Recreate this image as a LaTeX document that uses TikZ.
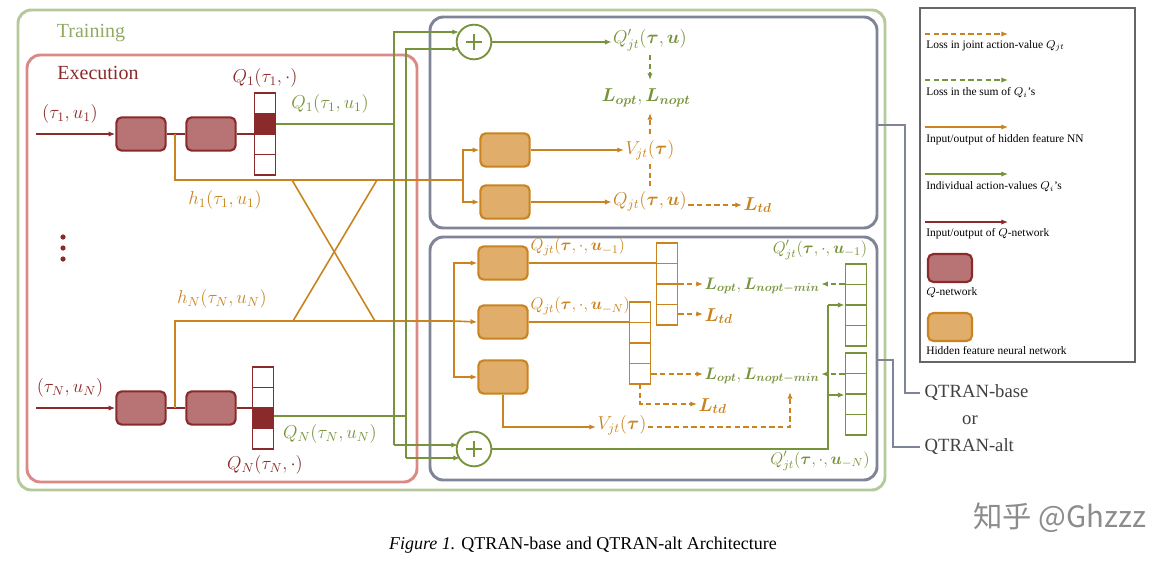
\documentclass[tikz,border=0pt]{standalone}
\usepackage{fix-cm}
\usepackage{amsmath,bm}
\usepackage{fontspec}
\setmainfont{Liberation Serif}
\newfontfamily\cjk{Noto Sans CJK SC}
\usetikzlibrary{arrows.meta}
\definecolor{cg}{HTML}{77933C}
\definecolor{co}{HTML}{C98420}
\definecolor{cr}{HTML}{8B2A2A}
\definecolor{crf}{HTML}{B87474}
\definecolor{cof}{HTML}{E0AD6A}
\definecolor{ctr}{HTML}{B5C99A}
\definecolor{cex}{HTML}{D98A86}
\definecolor{cgy}{HTML}{7F8496}
\tikzset{
 ar/.style={-{Latex[length=5pt,width=4pt]}},
 gl/.style={cg,line width=1.2pt},
 ol/.style={co,line width=1.2pt},
 rl/.style={cr,line width=1.2pt},
 dsh/.style={dash pattern=on 4pt off 2.5pt},
 qnet/.style={draw=cr,fill=crf,line width=1.6pt,rounded corners=4pt,minimum width=37pt,minimum height=25pt,inner sep=0},
 hnet/.style={draw=co,fill=cof,line width=1.6pt,rounded corners=4pt,minimum width=37pt,minimum height=25pt,inner sep=0},
 cell/.style={draw,line width=1.1pt,minimum width=16pt,minimum height=15.4pt,inner sep=0},
 lab/.style={font=\fontsize{14}{16}\selectfont,inner sep=1pt},
 sml/.style={font=\fontsize{12.5}{15}\selectfont,inner sep=1pt},
 leg/.style={font=\fontsize{8.6}{10}\selectfont,anchor=west,inner sep=0},
 big/.style={draw,rounded corners=10pt,line width=2.2pt},
 sum/.style={circle,draw=cg,line width=1.4pt,minimum size=26pt,inner sep=0},
}
\newcommand{\vecq}[4]{% name, x, ytop, color
 \foreach \i in {0,1,2,3}{\node[cell,draw=#4] (#1\i) at (#2,#3+10.3+\i*20.5) {};}}
\begin{document}
\begin{tikzpicture}[x=0.75pt,y=-0.75pt]
\useasboundingbox (0,0) rectangle (1167,565);
% frames
\draw[big,ctr] (18,10) rectangle (885,490);
\draw[big,cex] (27,55) rectangle (417,482);
\draw[big,cgy] (430,17) rectangle (877,228);
\draw[big,cgy] (430,237) rectangle (877,480);
\node[lab,text=cg!80,font=\fontsize{15}{17}\selectfont] (trn) at (91,33) {Training};
\node[lab,text=cr,font=\fontsize{15}{17}\selectfont] (exe) at (98,73) {Execution};
% agent 1
\coordinate (in1) at (36,134);
\node[qnet] (q1a) at (141,134) {};
\node[qnet] (q1b) at (211,134) {};
\draw[rl,ar] (in1) -- (q1a);
\node[lab,text=cr] at (70,114) {$(\tau_1,u_1)$};
\draw[rl] (q1a) -- (q1b);
\vecq{v1}{265}{93}{cr}
\fill[cr] (v11.south west) rectangle (v11.north east);
\draw[rl] (q1b) -- (v11.west |- q1b);
\node[lab,text=cr] at (265,78) {$Q_1(\tau_1,\cdot)$};
\draw[gl] (v11.east |- 0,124) -- (395,124);
\node[lab,text=cg] at (330,104) {$Q_1(\tau_1,u_1)$};
% agent N
\coordinate (inN) at (36,408);
\node[qnet] (qNa) at (141,408) {};
\node[qnet] (qNb) at (211,408) {};
\draw[rl,ar] (inN) -- (qNa);
\node[lab,text=cr] at (70,388) {$(\tau_N,u_N)$};
\draw[rl] (qNa) -- (qNb);
\vecq{vN}{263}{367}{cr}
\fill[cr] (vN2.south west) rectangle (vN2.north east);
\draw[rl] (qNb) -- (vN2.west |- qNb);
\node[lab,text=cr] at (265,465) {$Q_N(\tau_N,\cdot)$};
\draw[gl] (vN2.east |- 0,416) -- (406,416);
\node[lab,text=cg] at (330,434) {$Q_N(\tau_N,u_N)$};
\foreach \y in {237,248,259} \fill[cr] (63,\y) circle (2.6);
% hidden features
\draw[ol] (175,134) -- (175,180) -- (463,180);
\draw[ol] (175,408) -- (175,321) -- (454,321);
\draw[ol] (292,180) -- (375,321);
\draw[ol] (377,180) -- (293,321);
\node[lab,text=co] at (225,200) {$h_1(\tau_1,u_1)$};
\node[lab,text=co] at (222,299) {$h_N(\tau_N,u_N)$};
% green bus
\node[sum] (s1) at (474,42) {};
\node[sum] (s2) at (474,449) {};
\draw[gl,ar] (394,445) -- (394,32) -- (459,32);
\draw[gl,ar] (406,458) -- (406,49) -- (459,49);
\draw[gl,ar] (394,445) -- (458,445);
\draw[gl,ar] (406,458) -- (460,458);
\foreach \s in {s1,s2}{\draw[cg,line width=1.4pt] (\s)++(-8,0) -- ++(16,0) (\s)++(0,-8) -- ++(0,16);}
% top right box
\node[hnet] (h1) at (505,150) {};
\node[hnet] (h2) at (505,202) {};
\draw[ol,ar] (463,180) |- (h1.west);
\draw[ol,ar] (463,180) |- (h2.west);
\node[lab,text=cg] (qp) at (650,40) {$Q'_{jt}(\bm{\tau},\bm{u})$};
\node[lab,text=cg] (lo) at (646,98) {$\bm{L_{opt}},\bm{L_{nopt}}$};
\node[lab,text=co] (vj) at (650,150) {$V_{jt}(\bm{\tau})$};
\node[lab,text=co] (qj) at (650,201) {$Q_{jt}(\bm{\tau},\bm{u})$};
\node[lab,text=co,anchor=west] (ltd) at (742,205) {$\bm{L_{td}}$};
\draw[gl,ar] (s1) -- (s1 -| qp.west);
\draw[ol,ar] (h1) -- (h1 -| vj.west);
\draw[ol,ar] (h2) -- (h2 -| qj.west);
\draw[gl,dsh,ar] (650,55) -- (650,80);
\draw[ol,dsh,ar] (650,134) -- (650,113);
\draw[ol,dsh] (650,164) -- (650,186);
\draw[ol,dsh,ar] (qj.east |- ltd) -- (ltd.west);
% bottom right box
\node[hnet] (b1) at (503,263) {};
\node[hnet] (b2) at (503,322) {};
\node[hnet] (b3) at (503,377) {};
\draw[ol,ar] (454,321) |- (b1.west);
\draw[ol,ar] (454,321) -- (b2.west);
\draw[ol,ar] (454,321) |- (b3.west);
\vecq{w1}{667}{243}{co}
\vecq{w2}{640}{302}{co}
\draw[ol] (b1) -- (w10.west |- b1);
\draw[ol] (b2) -- (w20.west |- b2);
\node[sml,text=co,anchor=west] at (529,247) {$Q_{jt}(\bm{\tau},\cdot,\bm{u}_{-1})$};
\node[sml,text=co,anchor=west] at (529,306) {$Q_{jt}(\bm{\tau},\cdot,\bm{u}_{-N})$};
\node[sml,text=cg,anchor=west] (m1) at (703,286) {$\bm{L_{opt}},\bm{L_{nopt-min}}$};
\node[lab,text=co,anchor=west] (t1) at (703,316) {$\bm{L_{td}}$};
\node[sml,text=cg,anchor=west] (m2) at (703,376) {$\bm{L_{opt}},\bm{L_{nopt-min}}$};
\node[lab,text=co,anchor=west] (t2) at (697,406) {$\bm{L_{td}}$};
\draw[ol,dsh,ar] (w10.east |- 0,284) -- (m1.west |- 0,284);
\draw[ol,dsh,ar] (w10.east |- 0,314) -- (t1.west |- 0,314);
\draw[ol,dsh,ar] (w20.east |- 0,374) -- (m2.west |- 0,374);
\draw[ol,dsh,ar] (640,384) -- (640,404) -- (t2.west |- 0,404);
\node[lab,text=co] (vj2) at (622,425) {$V_{jt}(\bm{\tau})$};
\draw[ol,ar] (b3.south) |- (vj2.west |- 0,427);
\draw[ol,dsh,ar] (vj2.east |- 0,427) -- (790,427) -- (790,392);
\vecq{g1}{856}{264}{cg}
\vecq{g2}{856}{353}{cg}
\node[sml,text=cg] at (820,250) {$Q'_{jt}(\bm{\tau},\cdot,\bm{u}_{-1})$};
\node[sml,text=cg] at (820,461) {$Q'_{jt}(\bm{\tau},\cdot,\bm{u}_{-N})$};
\draw[gl,dsh,ar] (g10.west |- 0,284) -- (m1.east |- 0,284);
\draw[gl,dsh,ar] (g20.west |- 0,374) -- (m2.east |- 0,374);
\draw[gl] (s2) -- (828,449) -- (828,305);
\draw[gl,ar] (828,305) -- (g10.west |- 0,305);
\draw[gl,ar] (828,395) -- (g20.west |- 0,395);
% QTRAN labels
\node[font=\fontsize{14}{16}\selectfont,anchor=west,text=black!75] (qb) at (920,393) {QTRAN-base};
\node[font=\fontsize{14}{16}\selectfont,text=black!75] at (970,420) {or};
\node[font=\fontsize{14}{16}\selectfont,anchor=west,text=black!75] (qa) at (920,447) {QTRAN-alt};
\draw[cgy,line width=2pt] (877,125) -- (905,125) -- (905,393) -- (qb.west);
\draw[cgy,line width=2pt] (877,360) -- (893,360) -- (893,447) -- (qa.west);
% legend
\draw[black!60,line width=0.8pt,fill=white] (920,8) rectangle (1135,362);
\draw[ol,dsh,ar,line width=0.9pt] (925,34) -- (1008,34);
\node[leg] at (926,46) {Loss in joint action-value $Q_{jt}$};
\draw[gl,dsh,ar,line width=0.9pt] (925,80) -- (1008,80);
\node[leg] at (926,93) {Loss in the sum of $Q_i$'s};
\draw[ol,ar,line width=0.9pt] (925,127) -- (1008,127);
\node[leg] at (926,140) {Input/output of hidden feature NN};
\draw[gl,ar,line width=0.9pt] (925,174) -- (1008,174);
\node[leg] at (926,187) {Individual action-values $Q_i$'s};
\draw[rl,ar,line width=0.9pt] (925,222) -- (1008,222);
\node[leg] at (926,234) {Input/output of $Q$-network};
\node[qnet,minimum width=33pt,minimum height=21pt] (lq) at (950,268) {};
\node[leg] at (926,293) {$Q$-network};
\node[hnet,minimum width=33pt,minimum height=21pt] (lh) at (950,327) {};
\node[leg] at (926,351) {Hidden feature neural network};
% caption & watermark
\node[font=\fontsize{13.5}{16}\selectfont] at (583,545) {\textit{Figure 1.} QTRAN-base and QTRAN-alt Architecture};
\node[font=\cjk\fontsize{22}{26}\selectfont,text=black!45] at (1060,518) {知乎 @Ghzzz};
\end{tikzpicture}
\end{document}
